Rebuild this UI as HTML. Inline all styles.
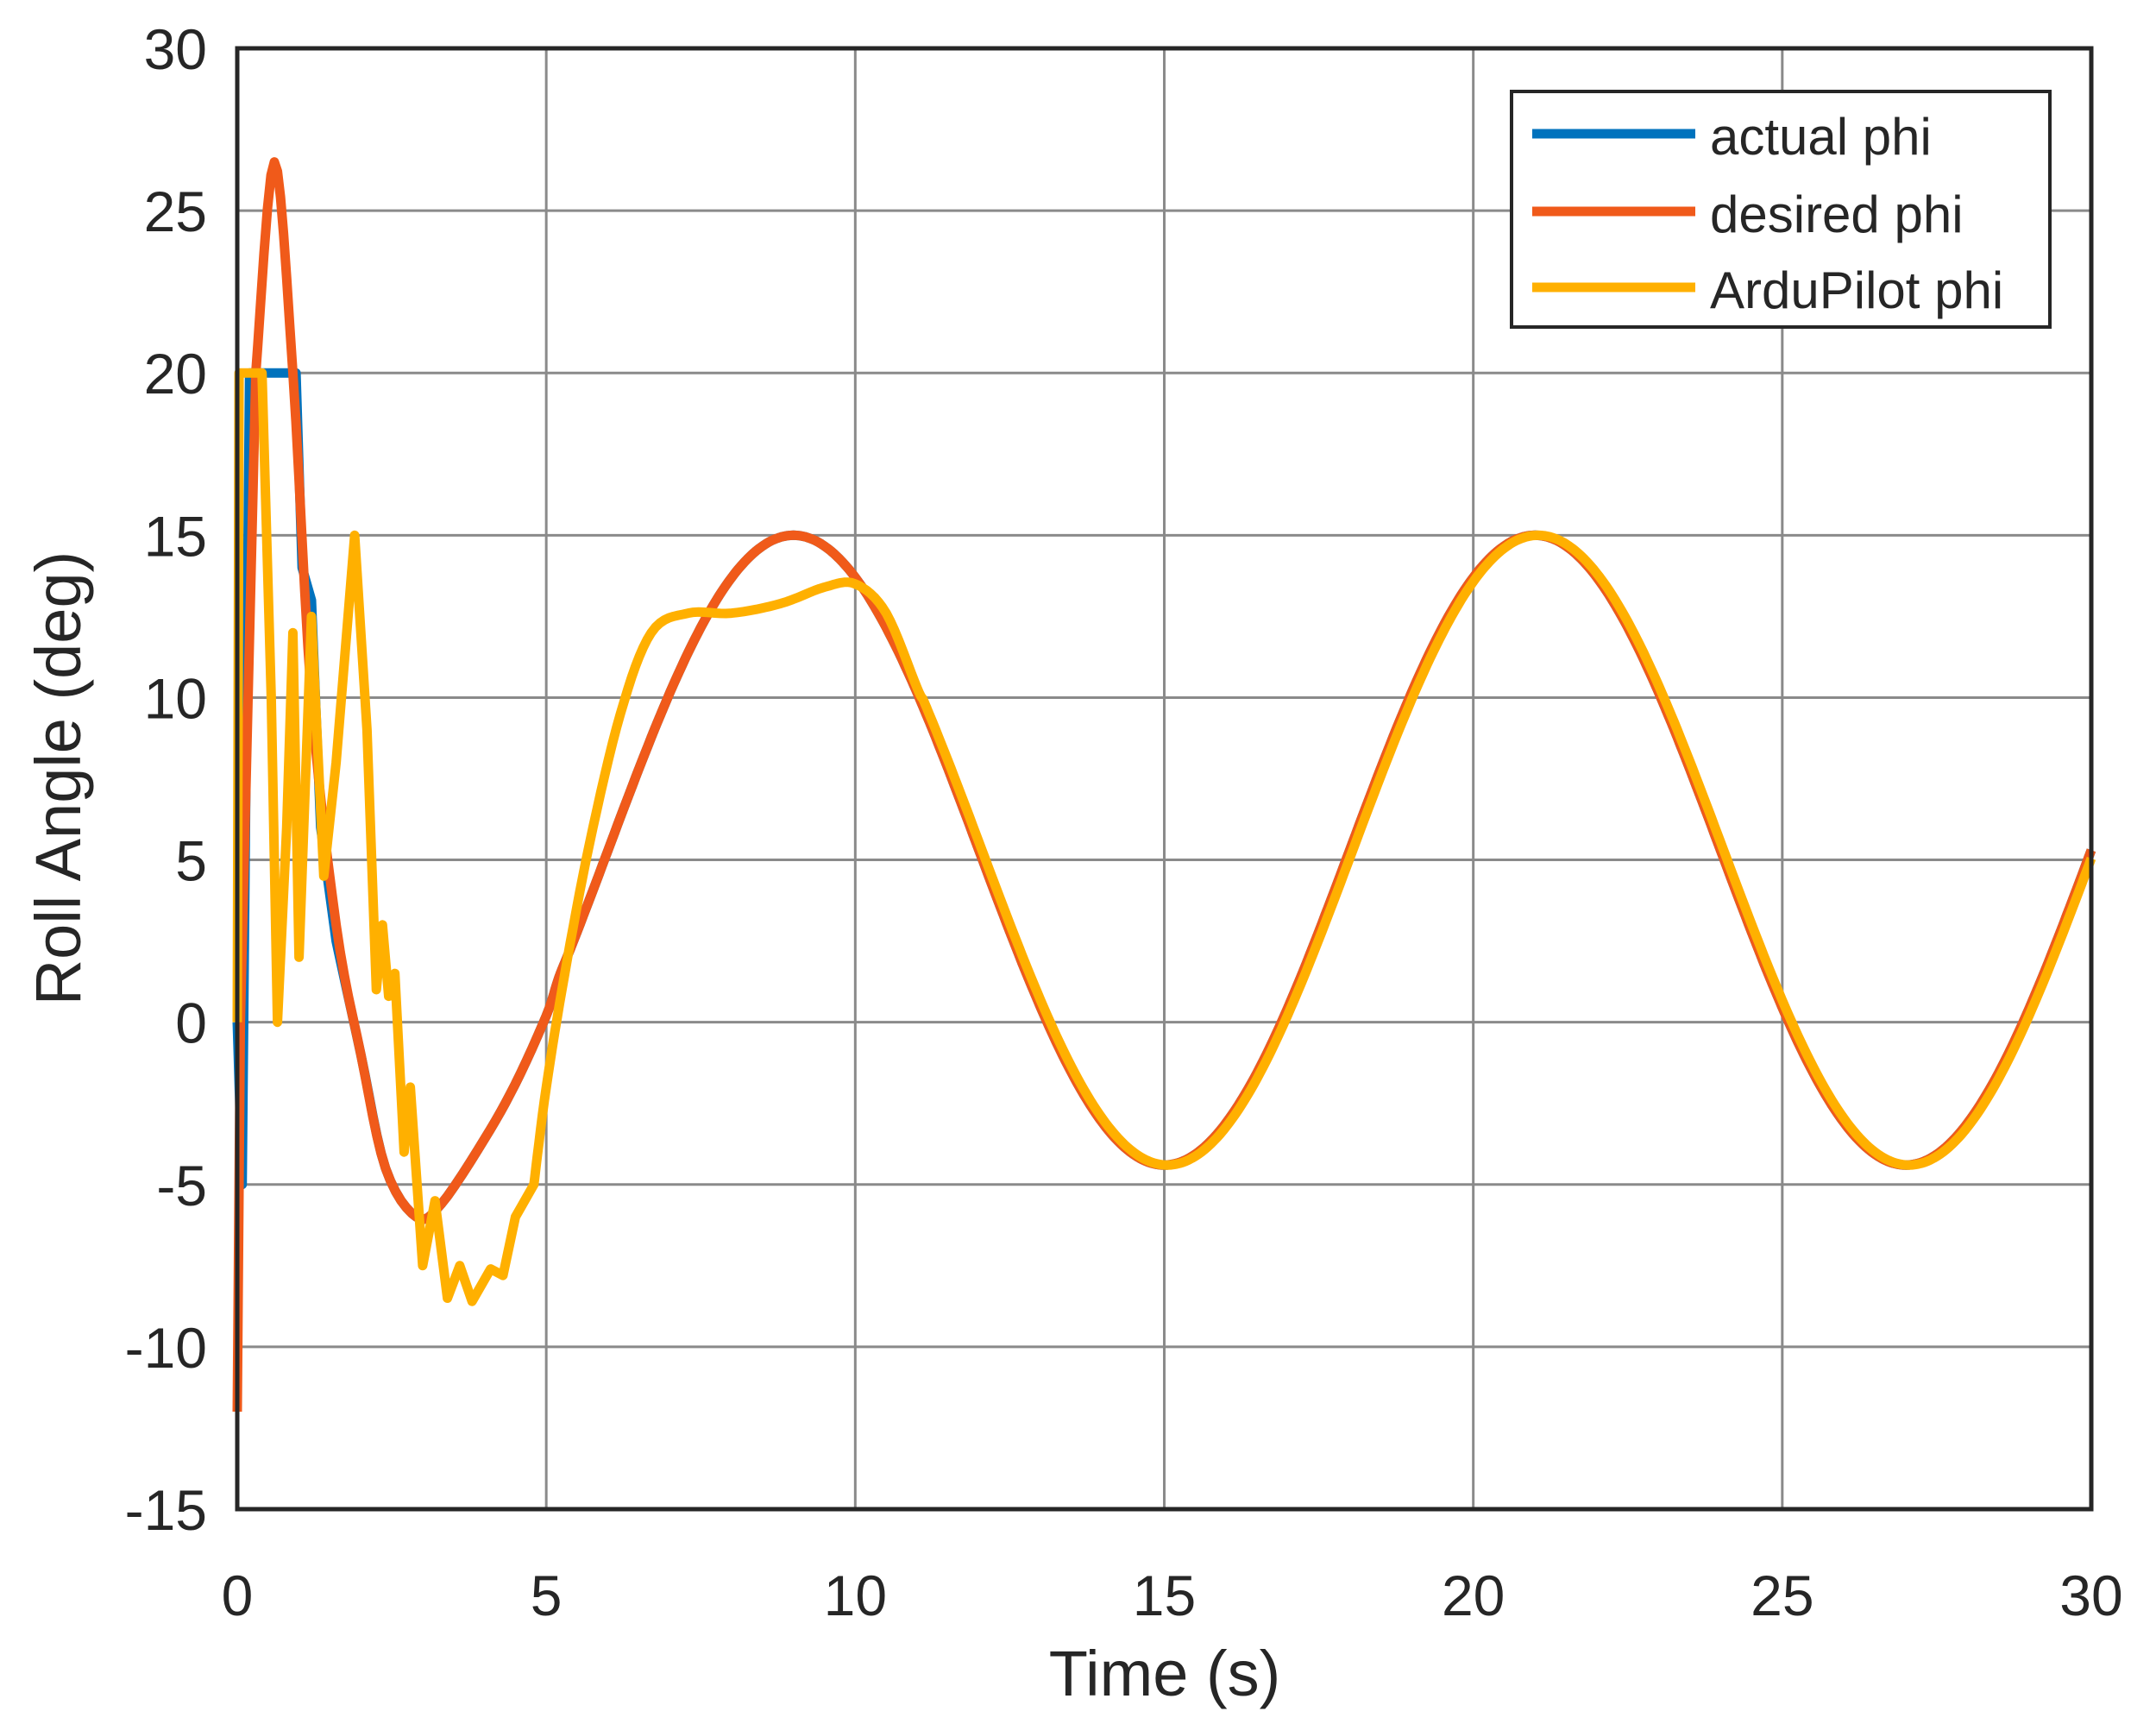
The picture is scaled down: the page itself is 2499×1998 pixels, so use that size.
<!DOCTYPE html>
<html><head><meta charset="utf-8">
<style>html,body{margin:0;padding:0;background:#fff;}svg{display:block;}</style>
</head><body>
<svg id="s" width="2499" height="1998" xmlns="http://www.w3.org/2000/svg" font-family="Liberation Sans, sans-serif">
<rect width="2499" height="1998" fill="#fff"/>
<g id="grid" stroke="#8a8a8a" stroke-width="3"></g>
<g id="ticks" fill="#262626" font-size="66"></g>
<g id="lines" fill="none" stroke-width="11" stroke-linejoin="round"></g>
<rect x="275" y="56" width="2149" height="1693" fill="none" stroke="#262626" stroke-width="5"/>
<text x="1350" y="1965" font-size="74" text-anchor="middle" fill="#262626">Time (s)</text>
<text transform="translate(93,902) rotate(-90)" font-size="74" text-anchor="middle" fill="#262626">Roll Angle (deg)</text>
<g>
<rect x="1752" y="106" width="624" height="273" fill="#fff" stroke="#262626" stroke-width="4"/>
<line x1="1776" y1="155" x2="1965" y2="155" stroke="#0072BD" stroke-width="11"/>
<line x1="1776" y1="245" x2="1965" y2="245" stroke="#F05A1A" stroke-width="11"/>
<line x1="1776" y1="333" x2="1965" y2="333" stroke="#FFB000" stroke-width="11"/>
<text x="1982" y="179" font-size="60" fill="#262626">actual phi</text>
<text x="1982" y="269" font-size="60" fill="#262626">desired phi</text>
<text x="1982" y="357" font-size="60" fill="#262626">ArduPilot phi</text>
</g>
</svg>
<script>
const X=t=>275+t*2149/30, Y=v=>56+(30-v)*1693/45;
const NS="http://www.w3.org/2000/svg";
const g=document.getElementById('grid'),tk=document.getElementById('ticks'),ln=document.getElementById('lines');
function el(p,tag,a,txt){const e=document.createElementNS(NS,tag);for(const k in a)e.setAttribute(k,a[k]);if(txt!=null)e.textContent=txt;p.appendChild(e);return e;}
for(let t=5;t<30;t+=5)el(g,'line',{x1:X(t),y1:56,x2:X(t),y2:1749});
for(let v=-10;v<30;v+=5)el(g,'line',{x1:275,y1:Y(v),x2:2424,y2:Y(v)});
for(let t=0;t<=30;t+=5)el(tk,'text',{x:X(t),y:1872,'text-anchor':'middle'},t);
for(let v=-15;v<=30;v+=5)el(tk,'text',{x:240,y:Y(v)+24,'text-anchor':'end'},v);
const sinu=(t,lag=0)=>5.3+9.7*Math.sin(2*Math.PI*(t-lag-6)/12);
function cr(pts,n){const o=[];for(let i=0;i<pts.length-1;i++){const p0=pts[Math.max(0,i-1)],p1=pts[i],p2=pts[i+1],p3=pts[Math.min(pts.length-1,i+2)];for(let k=0;k<n;k++){const s=k/n,s2=s*s,s3=s2*s;const f=(a,b,c,d)=>0.5*(2*b+(-a+c)*s+(2*a-5*b+4*c-d)*s2+(-a+3*b-3*c+d)*s3);o.push([f(p0[0],p1[0],p2[0],p3[0]),f(p0[1],p1[1],p2[1],p3[1])]);}}o.push(pts[pts.length-1]);return o;}
function path(pts,col){let d='';pts.forEach((p,i)=>{d+=(i?'L':'M')+X(p[0]).toFixed(1)+' '+Y(p[1]).toFixed(1);});el(ln,'path',{d:d,stroke:col});}
function tail(from,lag){const a=[];for(let t=from;t<=30.001;t+=0.05)a.push([t,sinu(t,lag)]);return a;}
const desHead=cr([[0.3,20],[0.6,26.5],[0.9,20],[1.2,10],[1.6,3],[2.0,-1],[2.4,-4.5],[2.9,-6],[3.3,-5.6],[4,-3.6],[4.5,-1.9],[5,0.2],[5.2,sinu(5.2)],[5.4,sinu(5.4)]],6);
let blue=[[0,0],[0.08,-5],[0.2,20],[0.95,20],[1.05,14],[1.2,13],[1.35,6],[1.6,2.5]].concat(cr([[1.6,2.5],[2.0,-1],[2.4,-4.5],[2.9,-6],[3.3,-5.6],[4,-3.6],[4.5,-1.9],[5,0.2],[5.2,sinu(5.2)],[5.4,sinu(5.4)]],6)).concat(tail(5.45,0));
path(blue,'#0072BD');
let des=[[0,-12],[0.05,0]].concat(desHead).concat(tail(5.45,0));
path(des,'#F05A1A');
let ard=[[0,0],[0.03,20],[0.4,20],[0.55,10],[0.65,0],[0.8,6],[0.9,12],[1.0,2],[1.2,12.5],[1.4,4.5],[1.6,8],[1.9,15],[2.1,9],[2.25,1],[2.35,3],[2.45,0.8],[2.55,1.5],[2.7,-4],[2.8,-2],[3.0,-7.5],[3.2,-5.5],[3.4,-8.5],[3.6,-7.5],[3.8,-8.6],[4.1,-7.6],[4.3,-7.8],[4.5,-6],[4.8,-5]].concat(cr([[4.8,-5],[5.0,-2],[5.3,1.5],[5.7,5.5],[6.2,9.5],[6.7,12],[7.3,12.6],[8,12.6],[8.8,12.9],[9.5,13.4],[10,13.5],[10.5,12.6],[11,10.3],[11.1,sinu(11.1,0.05)],[11.2,sinu(11.2,0.05)]],8)).concat(tail(11.25,0.05));
path(ard,'#FFB000');
</script>
</body></html>
